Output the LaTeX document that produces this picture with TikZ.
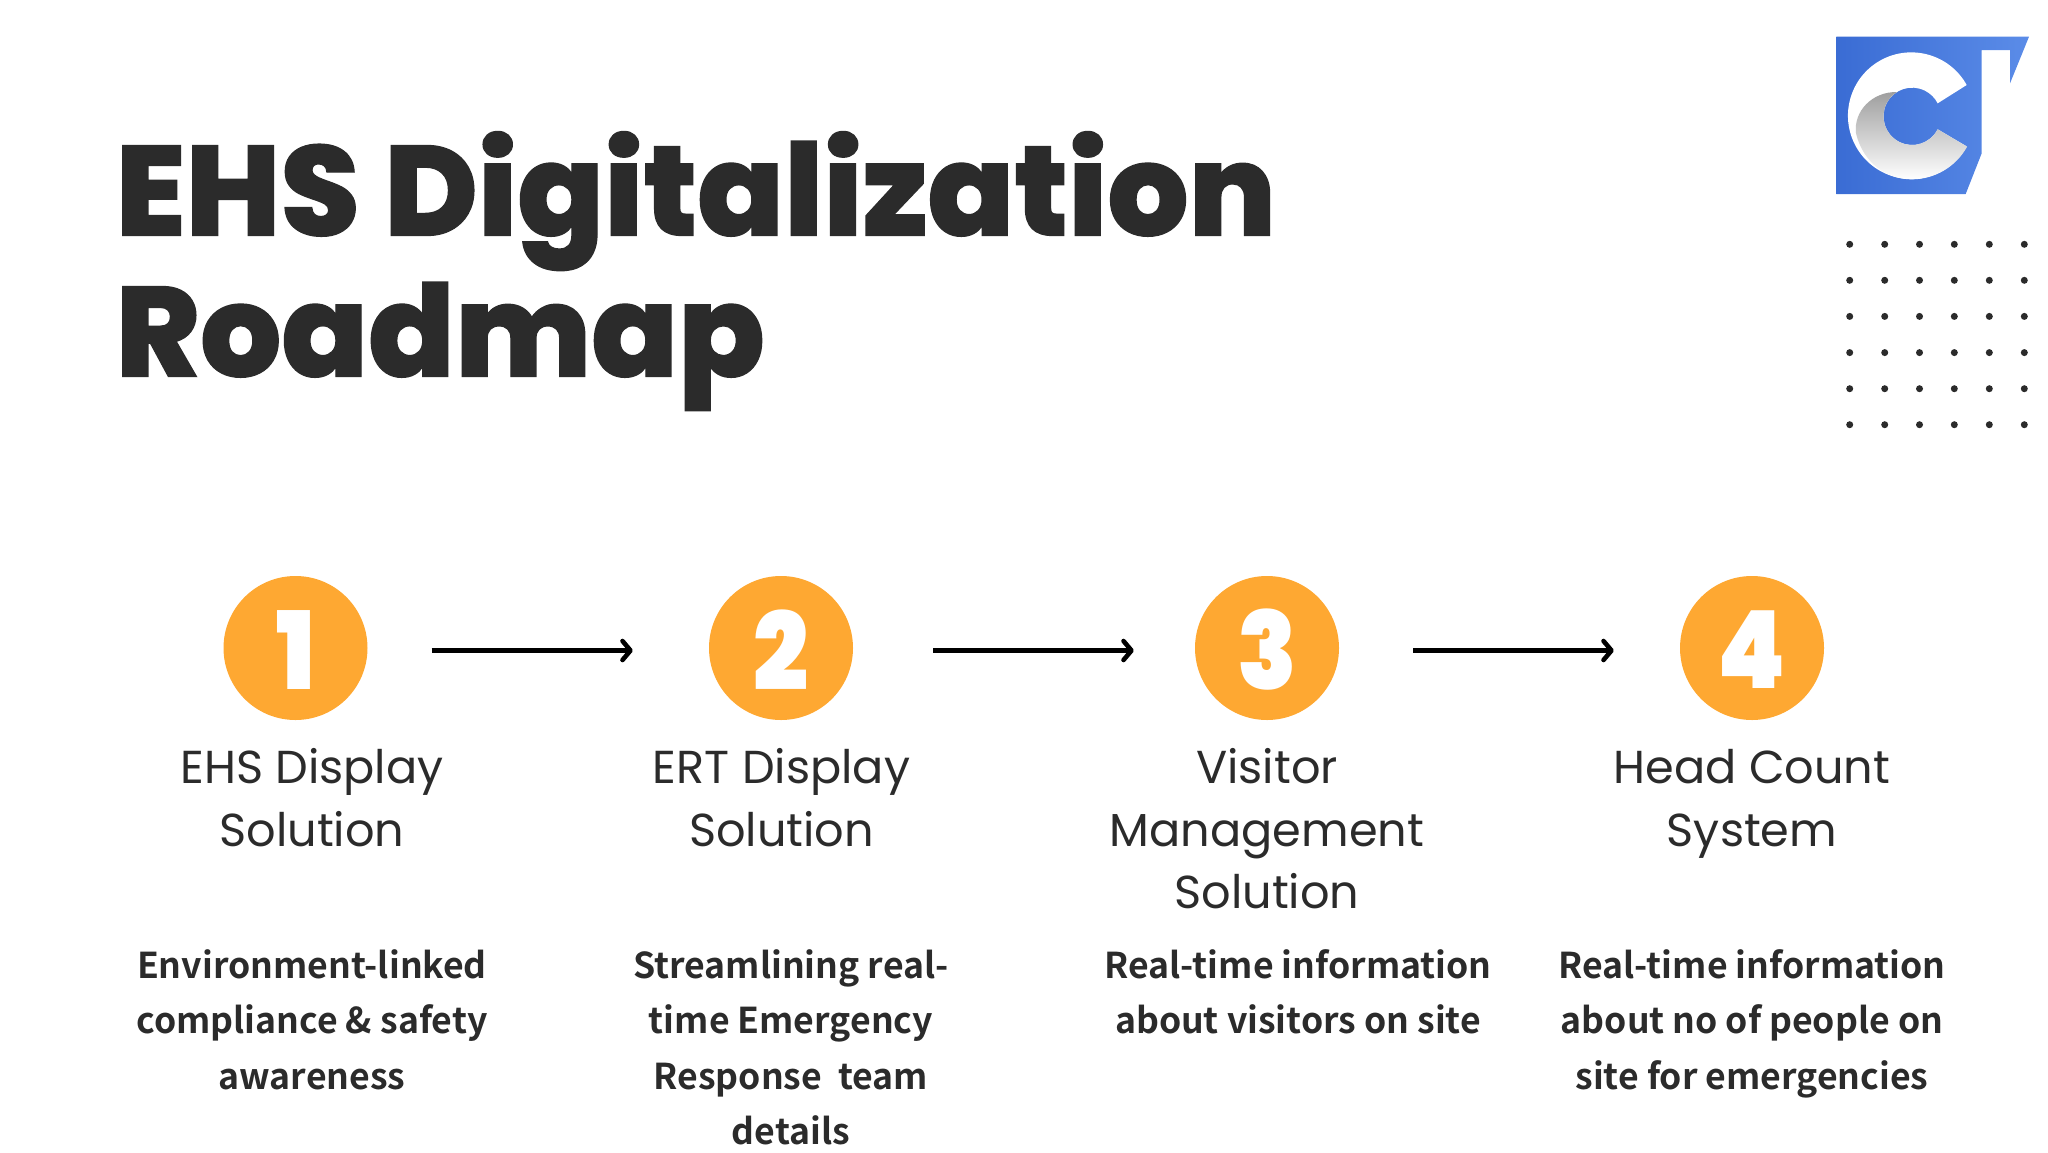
\documentclass[tikz,border=0pt]{standalone}
\usepackage{fontspec}
\usetikzlibrary{arrows.meta,calc}
\newfontfamily\titlefont{Poppins}[UprightFont=* ExtraBold,FakeBold=1]
\newfontfamily\digitfont{Poppins}[UprightFont=* Black,FakeStretch=0.9]
\newfontfamily\labelfont{Poppins}
\newfontfamily\bodyfont{Noto Sans CJK SC}[UprightFont=* Bold]
\definecolor{ink}{HTML}{2B2B2B}
\definecolor{amber}{HTML}{FEA832}
\definecolor{logoL}{HTML}{3A6CD4}
\definecolor{logoR}{HTML}{5B8CE8}
\tikzset{
  titletext/.style={anchor=base west,inner sep=0pt,text=ink,font=\titlefont\fontsize{127.7}{141}\selectfont},
  badge/.style={circle,fill=amber,minimum size=144pt,inner sep=0pt},
  digit/.style={text=white,inner sep=0pt,font=\digitfont\fontsize{108}{108}\selectfont},
  steplabel/.style={anchor=north,align=center,inner sep=0pt,text=ink,font=\labelfont\fontsize{46.2}{62.7}\selectfont},
  stepbody/.style={anchor=north,align=center,inner sep=0pt,text=ink,font=\bodyfont\fontsize{35.6}{55.5}\selectfont},
  flow/.style={draw=black,line width=4.6pt,-{Straight Barb[length=8pt,width=19pt,line width=4.6pt,round]}},
  dot/.style={fill=ink,draw=none}
}
\begin{document}
\begin{tikzpicture}[x=1pt,y=-1pt]
\useasboundingbox (0,0) rectangle (2048,1152);
% title
\node[titletext] (t1) at (115.5,235.5) {EHS Digitalization};
\node[titletext] (t2) at (115.5,376.5) {Roadmap};
% logo
\begin{scope}[shift={(1800,20)},x=0.33333pt,y=-0.33333pt]
  \shade[left color=logoL,right color=logoR] (109,50) -- (687,50) -- (630,190) -- (630,90) -- (545,90) -- (545,400) -- (497,522) -- (109,522) -- cycle;
  \fill[white] (500,195) arc[start angle=-29,end angle=-331,radius=190] -- (413,328) arc[start angle=27,end angle=333,radius=86] -- cycle;
  \shade[top color=black!38,bottom color=white,shading angle=0]
    (413,328) arc[start angle=27,end angle=238,radius=86]
    .. controls (215,215) and (160,275) .. (168,340)
    .. controls (190,430) and (260,478) .. (335,478)
    arc[start angle=90,end angle=29,radius=190] -- cycle;
\end{scope}
% dots
\foreach \px in {1849.7,1884.7,1919.5,1954.3,1989.3,2024.3}
  \foreach \py in {244.3,280.3,316.4,352.6,388.7,424.7}
    \fill[dot] (\px,\py) circle[radius=3.5];
% badges
\node[badge] (c1) at (295.5,648) {};
\node[badge] (c2) at (781,648) {};
\node[badge] (c3) at (1267,648) {};
\node[badge] (c4) at (1752,648) {};
\node[digit] (d1) at (296,650) {1};
\node[digit] (d2) at (781,650) {2};
\node[digit] (d3) at (1267,650) {3};
\node[digit] (d4) at (1752,650) {4};
% connectors
\draw[flow] ($(c1.east)+(64,2.5)$) -- ($(c2.west)+(-76,2.5)$);
\draw[flow] ($(c2.east)+(80,2.5)$) -- ($(c3.west)+(-61,2.5)$);
\draw[flow] ($(c3.east)+(74,2.5)$) -- ($(c4.west)+(-66,2.5)$);
% labels
\node[steplabel] (l1) at (312,748) {EHS Display\\Solution};
\node[steplabel] (l2) at (781.5,748) {ERT Display\\Solution};
\node[steplabel] (l3) at (1267,748) {Visitor\\Management\\Solution};
\node[steplabel] (l4) at (1752,749) {Head Count\\System};
% bodies
\node[stepbody] (b1) at (312,949) {Environment-linked\\compliance \& safety\\awareness};
\node[stepbody] (b2) at (791,949) {Streamlining real-\\time Emergency\\Response\ \ team\\details};
\node[stepbody] (b3) at (1298,949) {Real-time information\\about visitors on site};
\node[stepbody] (b4) at (1752,949) {Real-time information\\about no of people on\\site for emergencies};
\end{tikzpicture}
\end{document}
